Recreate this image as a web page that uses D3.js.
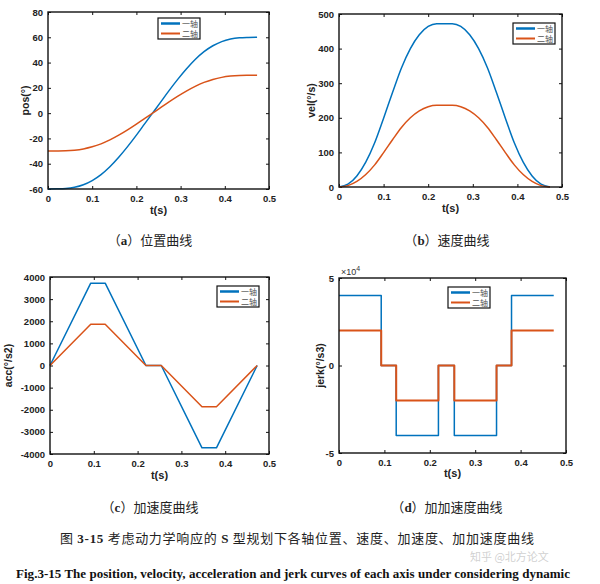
<!DOCTYPE html>
<html><head><meta charset="utf-8">
<script src="https://cdn.jsdelivr.net/npm/d3@7"></script>
<style>body{margin:0;background:#fff}svg{display:block}</style>
</head><body>
<svg id="c" width="600" height="584"></svg>
<script>
// ---- data ----
const seriesNames = ["一轴", "二轴"];
const tSmooth = [0,0.02,0.04,0.06,0.08,0.10,0.12,0.14,0.16,0.18,0.20,0.219,0.2365,0.254,0.273,0.293,0.313,0.333,0.353,0.373,0.393,0.413,0.433,0.453,0.473];
const pos1 = [-60,-59.9,-59.6,-58.6,-56.6,-53.3,-48.6,-42.4,-34.9,-26.5,-17.4,-8.3,0,8.3,17.4,26.5,34.9,42.4,48.6,53.3,56.6,58.6,59.6,59.9,60];
const pos2 = [-30,-29.95,-29.8,-29.3,-28.3,-26.65,-24.3,-21.2,-17.45,-13.25,-8.7,-4.15,0,4.15,8.7,13.25,17.45,21.2,24.3,26.65,28.3,29.3,29.8,29.95,30];
const vel1 = [0,8,32,72,128,199,273,344,400,440,464,472,472,472,464,440,400,344,273,199,128,72,32,8,0];
const vel2 = [0,4,16,36,64,99.5,136.5,172,200,220,232,236,236,236,232,220,200,172,136.5,99.5,64,36,16,4,0];
const tBreak = [0,0.093,0.126,0.219,0.254,0.347,0.380,0.473];
const acc1 = [0,3720,3720,0,0,-3720,-3720,0];
const acc2 = [0,1860,1860,0,0,-1860,-1860,0];
const jerk1 = [40000,0,-40000,0,-40000,0,40000,40000];
const jerk2 = [20000,0,-20000,0,-20000,0,20000,20000];
const xTicks = [0,0.1,0.2,0.3,0.4,0.5];
const posTicks = [-60,-40,-20,0,20,40,60,80];
const velTicks = [0,100,200,300,400,500];
const accTicks = [-4000,-3000,-2000,-1000,0,1000,2000,3000,4000];
const jerkTicks = [-50000,0,50000];

const colors = ["#0072BD", "#D95319"];
const svg = d3.select("#c");
const tickFont = "'Liberation Sans', Arial, sans-serif";

function panel(o) {
  const x = d3.scaleLinear().domain([0,0.5]).range([o.x0,o.x1]);
  const y = d3.scaleLinear().domain(o.yDomain).range([o.y1,o.y0]);
  const g = svg.append("g");
  const fmtY = o.fmtY || (d => String(d));
  const fmtX = d => d === 0 ? "0" : d3.format(".1f")(d);
  const ax = (gen, tr) => {
    const a = g.append("g").attr("transform", tr).call(gen);
    a.select(".domain").remove();
    a.selectAll("line").attr("stroke", "#111").attr("stroke-width", 1);
    a.selectAll("text").attr("font-family", tickFont).attr("font-weight", "bold").attr("font-size", 9.5).attr("fill", "#222");
    return a;
  };
  ax(d3.axisBottom(x).tickValues(xTicks).tickSize(-3).tickPadding(6).tickFormat(fmtX), `translate(0,${o.y1})`);
  ax(d3.axisTop(x).tickValues(xTicks).tickSize(-3).tickFormat(""), `translate(0,${o.y0})`);
  ax(d3.axisLeft(y).tickValues(o.yTicks).tickSize(-3).tickPadding(5).tickFormat(fmtY), `translate(${o.x0},0)`);
  ax(d3.axisRight(y).tickValues(o.yTicks).tickSize(-3).tickFormat(""), `translate(${o.x1},0)`);
  o.series.forEach((s, i) => {
    const pts = o.t.map((t, k) => [t, s[k]]);
    const line = d3.line().x(d => x(d[0])).y(d => y(d[1])).curve(o.curve);
    g.append("path").attr("d", line(pts)).attr("fill", "none")
      .attr("stroke", colors[i]).attr("stroke-width", o.sw ? o.sw[i] : 1.5)
      .attr("stroke-linejoin", "round");
  });
  g.append("rect").attr("x", o.x0).attr("y", o.y0).attr("width", o.x1 - o.x0).attr("height", o.y1 - o.y0)
    .attr("fill", "none").attr("stroke", "#111").attr("stroke-width", 1.4);
  g.append("text").attr("x", (o.x0 + o.x1) / 2).attr("y", o.xlabY).attr("text-anchor", "middle")
    .attr("font-family", tickFont).attr("font-weight", "bold").attr("font-size", 11).attr("fill", "#222").text("t(s)");
  g.append("text").attr("transform", `translate(${o.ylabX},${(o.y0 + o.y1) / 2}) rotate(-90)`).attr("text-anchor", "middle")
    .attr("font-family", tickFont).attr("font-weight", "bold").attr("font-size", 10.5).attr("fill", "#222").text(o.ylabel);
  const L = o.legend;
  const lg = g.append("g");
  lg.append("rect").attr("x", L[0]).attr("y", L[1]).attr("width", 42).attr("height", 21)
    .attr("fill", "#fff").attr("stroke", "#111").attr("stroke-width", 1.2);
  seriesNames.forEach((n, i) => {
    const yy = L[1] + 5.5 + i * 10;
    lg.append("line").attr("x1", L[0] + 3).attr("x2", L[0] + 22).attr("y1", yy).attr("y2", yy)
      .attr("stroke", colors[i]).attr("stroke-width", i === 0 ? 2.5 : 2);
    lg.append("text").attr("x", L[0] + 24).attr("y", yy + 3).attr("font-family", "'Noto Sans CJK SC', sans-serif")
      .attr("font-size", 8).attr("fill", "#555").text(n);
  });
  return g;
}

panel({id:"a", x0:48, x1:269, y0:12, y1:189, yDomain:[-60,80], yTicks:posTicks, t:tSmooth, series:[pos1,pos2],
  curve:d3.curveMonotoneX, ylabel:"pos(°)", xlabY:214, ylabX:29, legend:[158,18]});
panel({id:"b", x0:339, x1:562, y0:14, y1:187, yDomain:[0,500], yTicks:velTicks, t:tSmooth, series:[vel1,vel2],
  curve:d3.curveMonotoneX, ylabel:"vel(°/s)", xlabY:212, ylabX:315, legend:[513,23]});
panel({id:"c", x0:50, x1:269, y0:277, y1:454, yDomain:[-4000,4000], yTicks:accTicks, t:tBreak, series:[acc1,acc2],
  curve:d3.curveLinear, ylabel:"acc(°/s2)", xlabY:479, ylabX:12, legend:[217,286]});
const gd = panel({id:"d", x0:339, x1:566, y0:278, y1:453, yDomain:[-50000,50000], yTicks:jerkTicks, t:tBreak, series:[jerk1,jerk2],
  curve:d3.curveStepAfter, sw:[1.5,2], fmtY:d => String(d / 10000), ylabel:"jerk(°/s3)", xlabY:477, ylabX:324, legend:[448,287]});
const ex = gd.append("text").attr("x", 341).attr("y", 275).attr("font-family", tickFont).attr("font-size", 9).attr("fill", "#333");
ex.append("tspan").text("×10");
ex.append("tspan").attr("dy", -4).attr("font-size", 7).text("4");

// captions
const cjk = "'Noto Sans CJK SC', sans-serif";
const serif = "'Liberation Serif', 'Times New Roman', serif";
function cap(x, y, letter, txt) {
  const t = svg.append("text").attr("x", x).attr("y", y).attr("text-anchor", "middle")
    .attr("font-family", cjk).attr("font-size", 13).attr("fill", "#222");
  t.append("tspan").text("（");
  t.append("tspan").attr("font-family", serif).attr("font-weight", "bold").text(letter);
  t.append("tspan").text("）" + txt);
}
cap(150, 245, "a", "位置曲线");
cap(447, 245, "b", "速度曲线");
cap(150, 512, "c", "加速度曲线");
cap(447, 512, "d", "加加速度曲线");

const zh = svg.append("text").attr("x", 60).attr("y", 543).attr("font-family", cjk).attr("font-size", 13).attr("fill", "#222")
  .attr("textLength", 474).attr("lengthAdjust", "spacing");
zh.append("tspan").text("图 ");
zh.append("tspan").attr("font-family", serif).attr("font-weight", "bold").text("3-15");
zh.append("tspan").text("  考虑动力学响应的 ");
zh.append("tspan").attr("font-family", serif).attr("font-weight", "bold").text("S");
zh.append("tspan").text(" 型规划下各轴位置、速度、加速度、加加速度曲线");

svg.append("text").attr("x", 16).attr("y", 578).attr("font-family", serif).attr("font-weight", "bold")
  .attr("font-size", 13).attr("fill", "#111").attr("textLength", 554).attr("lengthAdjust", "spacing")
  .text("Fig.3-15 The position, velocity, acceleration and jerk curves of each axis under considering dynamic");

svg.append("text").attr("x", 470).attr("y", 561).attr("font-family", cjk).attr("font-size", 11)
  .attr("fill", "#bbb").attr("fill-opacity", 0.7).text("知乎 @北方论文");
</script>
</body></html>
